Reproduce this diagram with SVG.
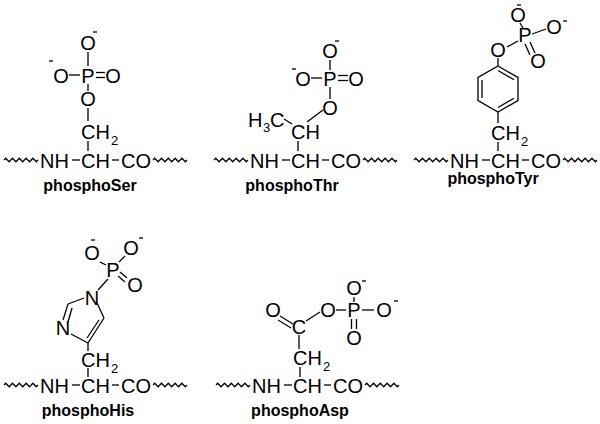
<svg xmlns="http://www.w3.org/2000/svg" xmlns:xlink="http://www.w3.org/1999/xlink" width="600" height="424" viewBox="0 0 600 424">
<style>
text{font-family:"Liberation Sans",Arial,sans-serif;font-size:20px;fill:#000}
.m{text-anchor:middle}
.s{font-size:13px}
.lbl{font-weight:bold;font-size:16px;text-anchor:middle}
line,path,polygon{stroke:#000;stroke-width:1.3;fill:none}
</style>
<defs>
<path id="wv" d="M0,0 l1.7,-1.8 l1.7,1.8 l1.7,1.8 l1.7,-1.8 l1.7,-1.8 l1.7,1.8 l1.7,1.8 l1.7,-1.8 l1.7,-1.8 l1.7,1.8 l1.7,1.8 l1.7,-1.8 l1.7,-1.8 l1.7,1.8 l1.7,1.8 l1.7,-1.8 l1.7,-1.8 l1.7,1.8 l1.7,1.8 l1.7,-1.8"/>
</defs>
<rect width="600" height="424" fill="#fff"/>

<g id="phosphoSer">
<use xlink:href="#wv" x="4" y="160"/><use xlink:href="#wv" x="153" y="160"/>
<text x="40" y="168">NH</text><line x1="72" y1="160" x2="80" y2="160"/>
<text x="81" y="168">CH</text><line x1="112" y1="160" x2="119" y2="160"/>
<text x="121" y="168">CO</text>
<line x1="88" y1="141" x2="88" y2="151"/>
<text x="81" y="139">CH</text><text class="s" x="111" y="145">2</text>
<line x1="88" y1="108" x2="88" y2="121"/>
<text class="m" x="88" y="106">O</text>
<line x1="88" y1="84" x2="88" y2="91"/>
<text class="m" x="88" y="83">P</text>
<text class="m" x="61" y="83">O</text><line x1="69" y1="75" x2="80" y2="75"/>
<text class="m" x="113" y="83">O</text><line x1="96" y1="72.5" x2="105" y2="72.5"/><line x1="96" y1="77.5" x2="105" y2="77.5"/>
<line x1="88" y1="52" x2="88" y2="66"/>
<text class="m" x="88" y="50">O</text>
<line x1="93" y1="32" x2="97" y2="32"/><line x1="49" y1="61" x2="53" y2="61"/>
<text class="lbl" x="90" y="191">phosphoSer</text>
</g>

<g id="phosphoThr">
<use xlink:href="#wv" x="214" y="160"/><use xlink:href="#wv" x="363" y="160"/>
<text x="250" y="168">NH</text><line x1="282" y1="160" x2="290" y2="160"/>
<text x="291" y="168">CH</text><line x1="322" y1="160" x2="329" y2="160"/>
<text x="331" y="168">CO</text>
<line x1="298" y1="141" x2="298" y2="151"/>
<text x="291" y="139">CH</text>
<text x="248" y="127">H</text><text class="s" x="263" y="132">3</text><text x="270" y="127">C</text>
<line x1="284" y1="119" x2="292" y2="124"/>
<line x1="307" y1="122" x2="323" y2="110"/>
<text class="m" x="330" y="115">O</text>
<line x1="330" y1="87" x2="330" y2="99"/>
<text class="m" x="330" y="86">P</text>
<text class="m" x="303" y="86">O</text><line x1="311" y1="78" x2="322" y2="78"/>
<text class="m" x="356" y="86">O</text><line x1="338" y1="75.5" x2="348" y2="75.5"/><line x1="338" y1="80.5" x2="348" y2="80.5"/>
<line x1="330" y1="60" x2="330" y2="70"/>
<text class="m" x="330" y="58">O</text>
<line x1="335" y1="41" x2="339" y2="41"/><line x1="292" y1="69" x2="296" y2="69"/>
<text class="lbl" x="292" y="191">phosphoThr</text>
</g>

<g id="phosphoTyr">
<use xlink:href="#wv" x="414" y="160"/><use xlink:href="#wv" x="563" y="160"/>
<text x="450" y="168">NH</text><line x1="482" y1="160" x2="490" y2="160"/>
<text x="491" y="168">CH</text><line x1="522" y1="160" x2="529" y2="160"/>
<text x="531" y="168">CO</text>
<line x1="498" y1="142" x2="498" y2="151"/>
<text x="491" y="140">CH</text><text class="s" x="521" y="146">2</text>
<line x1="498" y1="112" x2="498" y2="123"/>
<polygon points="498,66 518,77.5 518,100.5 498,112 478,100.5 478,77.5"/>
<line x1="482" y1="80" x2="482" y2="98"/>
<line x1="498" y1="70.5" x2="514" y2="79.7"/>
<line x1="514" y1="98.3" x2="498" y2="107.5"/>
<line x1="498" y1="58" x2="498" y2="66"/>
<text class="m" x="498" y="57">O</text>
<line x1="507" y1="47" x2="518" y2="41"/>
<text class="m" x="525" y="42">P</text>
<line x1="523" y1="28" x2="520" y2="23"/>
<text class="m" x="518" y="22">O</text>
<line x1="532" y1="34" x2="546" y2="29"/>
<text class="m" x="554" y="34">O</text>
<line x1="525" y1="44" x2="530" y2="55"/><line x1="530" y1="42" x2="535" y2="53"/>
<text class="m" x="538" y="68">O</text>
<line x1="517" y1="5" x2="521" y2="5"/><line x1="563" y1="21" x2="567" y2="21"/>
<text class="lbl" x="493" y="184">phosphoTyr</text>
</g>

<g id="phosphoHis">
<use xlink:href="#wv" x="4" y="385"/><use xlink:href="#wv" x="153" y="385"/>
<text x="40" y="393">NH</text><line x1="72" y1="385" x2="80" y2="385"/>
<text x="81" y="393">CH</text><line x1="112" y1="385" x2="119" y2="385"/>
<text x="121" y="393">CO</text>
<line x1="88" y1="368" x2="88" y2="377"/>
<text x="81" y="367">CH</text><text class="s" x="111" y="373">2</text>
<line x1="88" y1="343" x2="88" y2="351"/>
<line x1="97" y1="303" x2="104" y2="318"/>
<line x1="104" y1="318" x2="88" y2="343"/><line x1="99" y1="320" x2="87" y2="338"/>
<line x1="88" y1="343" x2="71" y2="334"/>
<line x1="63" y1="320" x2="68" y2="304"/><line x1="68" y1="322" x2="72" y2="308"/>
<line x1="68" y1="304" x2="84" y2="298"/>
<text class="m" x="92" y="305">N</text>
<text class="m" x="63" y="335">N</text>
<line x1="98" y1="290" x2="108" y2="279"/>
<text class="m" x="113" y="277">P</text>
<line x1="100" y1="262" x2="106" y2="265"/>
<text class="m" x="92" y="260">O</text>
<line x1="119" y1="262" x2="125" y2="256"/>
<text class="m" x="131" y="255">O</text>
<line x1="120" y1="272" x2="127" y2="278"/><line x1="118" y1="276" x2="125" y2="282"/>
<text class="m" x="135" y="292">O</text>
<line x1="91" y1="240" x2="95" y2="240"/><line x1="139" y1="238" x2="143" y2="238"/>
<text class="lbl" x="88" y="416">phosphoHis</text>
</g>

<g id="phosphoAsp">
<use xlink:href="#wv" x="216" y="385"/><use xlink:href="#wv" x="365" y="385"/>
<text x="252" y="393">NH</text><line x1="284" y1="385" x2="292" y2="385"/>
<text x="293" y="393">CH</text><line x1="324" y1="385" x2="331" y2="385"/>
<text x="333" y="393">CO</text>
<line x1="300" y1="367" x2="300" y2="377"/>
<text x="293" y="365">CH</text><text class="s" x="323" y="371">2</text>
<line x1="299" y1="335" x2="299" y2="349"/>
<text class="m" x="299" y="334">C</text>
<line x1="280" y1="316" x2="293" y2="324"/><line x1="278" y1="320" x2="291" y2="328"/>
<text class="m" x="273" y="317">O</text>
<line x1="306" y1="321" x2="320" y2="312"/>
<text class="m" x="328" y="317">O</text>
<line x1="336" y1="310" x2="346" y2="310"/>
<text class="m" x="354" y="317">P</text>
<line x1="362" y1="310" x2="374" y2="310"/>
<text class="m" x="384" y="317">O</text>
<line x1="354" y1="297" x2="354" y2="302"/>
<text class="m" x="354" y="295">O</text>
<line x1="351.5" y1="319" x2="351.5" y2="329"/><line x1="356.5" y1="319" x2="356.5" y2="329"/>
<text class="m" x="354" y="345">O</text>
<line x1="362" y1="281" x2="366" y2="281"/><line x1="394" y1="301" x2="398" y2="301"/>
<text class="lbl" x="300" y="416">phosphoAsp</text>
</g>
</svg>
